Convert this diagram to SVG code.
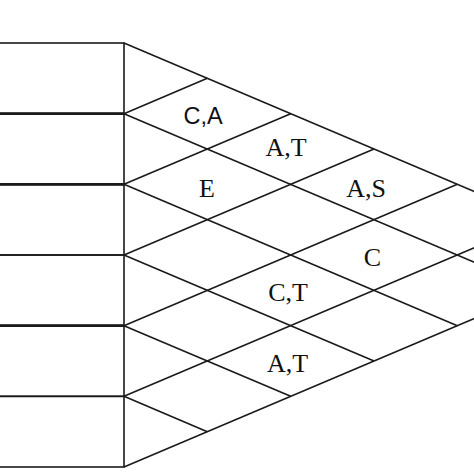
<svg xmlns="http://www.w3.org/2000/svg" width="474" height="474" viewBox="0 0 474 474">
<style>
.row{fill:none;stroke:#1a1a1a;stroke-width:1.6}
.thick{stroke:#1a1a1a;stroke-width:2.6}
.grid line{stroke:#1a1a1a;stroke-width:1.6}
.serif{font-family:"Liberation Serif","Times New Roman",serif;font-size:26px;fill:#111;text-anchor:middle}
.sans{font-family:"Liberation Sans",Arial,sans-serif;font-size:23.5px;fill:#111;text-anchor:middle}
</style>
<rect width="474" height="474" fill="#fff"/>
<g id="rows">
<g id="row1"><rect class="row" x="-5" y="43" width="129" height="70.67"/></g>
<g id="row2"><rect class="row" x="-5" y="113.67" width="129" height="70.67"/></g>
<g id="row3"><rect class="row" x="-5" y="184.33" width="129" height="70.67"/></g>
<g id="row4"><rect class="row" x="-5" y="255" width="129" height="70.67"/></g>
<g id="row5"><rect class="row" x="-5" y="325.67" width="129" height="70.67"/></g>
<g id="row6"><rect class="row" x="-5" y="396.33" width="129" height="70.67"/></g>
<line class="thick" x1="0" y1="113.67" x2="124" y2="113.67"/>
<line class="thick" x1="0" y1="184.33" x2="124" y2="184.33"/>
<line class="thick" x1="0" y1="325.67" x2="124" y2="325.67"/>
</g>
<g id="connectors" class="grid">
<line x1="124" y1="43" x2="624" y2="255"/>
<line x1="124" y1="467" x2="624" y2="255"/>
<line x1="124" y1="113.67" x2="540.67" y2="290.33"/>
<line x1="124" y1="184.33" x2="457.33" y2="325.67"/>
<line x1="124" y1="255" x2="374" y2="361"/>
<line x1="124" y1="325.67" x2="290.67" y2="396.33"/>
<line x1="124" y1="396.33" x2="207.33" y2="431.67"/>
<line x1="124" y1="113.67" x2="207.33" y2="78.33"/>
<line x1="124" y1="184.33" x2="290.67" y2="113.67"/>
<line x1="124" y1="255" x2="374" y2="149"/>
<line x1="124" y1="325.67" x2="457.33" y2="184.33"/>
<line x1="124" y1="396.33" x2="540.67" y2="219.67"/>
</g>
<g id="cell-CA"><text class="sans" x="203" y="124">C,A</text></g>
<g id="cell-E"><text class="serif" x="207" y="197">E</text></g>
<g id="cell-AT1"><text class="serif" x="286" y="156">A,T</text></g>
<g id="cell-AS"><text class="serif" x="366" y="197">A,S</text></g>
<g id="cell-C"><text class="serif" x="372.5" y="265.5">C</text></g>
<g id="cell-CT"><text class="serif" x="288" y="300.5">C,T</text></g>
<g id="cell-AT2"><text class="serif" x="287.5" y="372">A,T</text></g>
</svg>
